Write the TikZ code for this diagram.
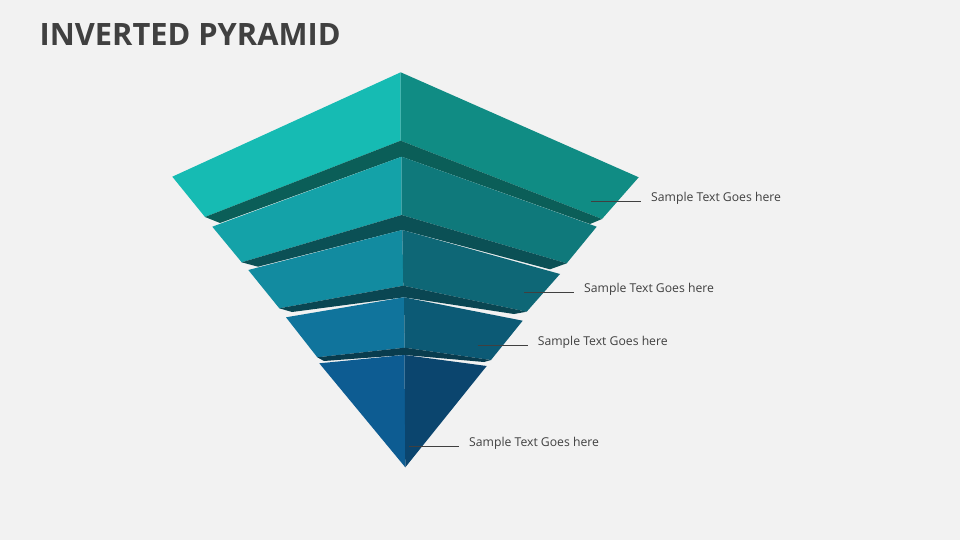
\documentclass[tikz,border=0pt]{standalone}
\usepackage{fontspec}
\setmainfont{Open Sans}
\definecolor{bg}{HTML}{F2F2F2}
\definecolor{txt}{HTML}{404040}
\definecolor{aL}{HTML}{16BBB3}\definecolor{aR}{HTML}{108C84}\definecolor{aD}{HTML}{0B5E58}
\definecolor{bL}{HTML}{14A2A8}\definecolor{bR}{HTML}{0F797B}\definecolor{bD}{HTML}{0B5055}
\definecolor{cL}{HTML}{128BA0}\definecolor{cR}{HTML}{0E6776}\definecolor{cD}{HTML}{0A4652}
\definecolor{dL}{HTML}{10749C}\definecolor{dR}{HTML}{0C5A75}\definecolor{dD}{HTML}{093C4E}
\definecolor{eL}{HTML}{0D5C92}\definecolor{eR}{HTML}{0B456E}
\tikzset{
  lbl/.style={anchor=west,inner xsep=10pt,inner ysep=0pt,font=\fontsize{12.2}{14}\selectfont,text=txt},
  leader/.style={draw=txt,line width=0.8pt},
}
\begin{document}
\begin{tikzpicture}[x=1pt,y=-1pt]
\fill[bg] (0,0) rectangle (960,540);
\useasboundingbox (0,0) rectangle (960,540);
\node[anchor=west,inner sep=0pt,font=\fontsize{30.8}{36}\bfseries\selectfont,text=txt] (title) at (39.5,34) {INVERTED PYRAMID};
% layer 1
\fill[aL] (172.3,176.7) -- (400.7,72.3) -- (400.7,140.7) -- (205,217) -- cycle;
\fill[aR] (400.7,72.3) -- (638.7,177.3) -- (602,219) -- (400.7,140.7) -- cycle;
\fill[aD] (205,217) -- (400.7,140.7) -- (602,219) -- (590,224) -- (401.7,156.7) -- (220,223) -- cycle;
% layer 2
\fill[bL] (212.3,226.7) -- (401.7,156.7) -- (401.7,215) -- (241.7,262.3) -- cycle;
\fill[bR] (401.7,156.7) -- (596.7,226.7) -- (566.7,263.3) -- (401.7,215) -- cycle;
\fill[bD] (241.7,262.3) -- (401.7,215) -- (566.7,263.3) -- (550,269.3) -- (402.3,230) -- (258,266.7) -- cycle;
% layer 3
\fill[cL] (248.3,270) -- (402.3,230) -- (403.3,285.7) -- (279.3,308.3) -- cycle;
\fill[cR] (402.3,230) -- (560,274) -- (526.7,311.7) -- (403.3,285.7) -- cycle;
\fill[cD] (279.3,308.3) -- (403.3,285.7) -- (526.7,311.7) -- (514,314) -- (404,297.3) -- (292,312) -- cycle;
% layer 4
\fill[dL] (286,317.3) -- (404,297.3) -- (404.7,347.7) -- (317.3,357.3) -- cycle;
\fill[dR] (404,297.3) -- (522.7,320.7) -- (491,360) -- (404.7,347.7) -- cycle;
\fill[dD] (317.3,357.3) -- (404.7,347.7) -- (491,360) -- (484,362) -- (404.5,355) -- (324,361) -- cycle;
% layer 5
\fill[eL] (319.3,363.3) -- (404.5,355) -- (405.3,467.3) -- cycle;
\fill[eR] (404.5,355) -- (486.7,366) -- (405.3,467.3) -- cycle;
% labels
\coordinate (p1) at (591,201.3);
\coordinate (p2) at (524,292.3);
\coordinate (p3) at (477.7,345.3);
\coordinate (p4) at (409,446.3);
\node[lbl] (t1) at (641,198) {Sample Text Goes here};
\node[lbl] (t2) at (574,289) {Sample Text Goes here};
\node[lbl] (t3) at (527.7,342) {Sample Text Goes here};
\node[lbl] (t4) at (459,443) {Sample Text Goes here};
\draw[leader] (p1) -- (p1 -| t1.west);
\draw[leader] (p2) -- (p2 -| t2.west);
\draw[leader] (p3) -- (p3 -| t3.west);
\draw[leader] (p4) -- (p4 -| t4.west);
\end{tikzpicture}
\end{document}
